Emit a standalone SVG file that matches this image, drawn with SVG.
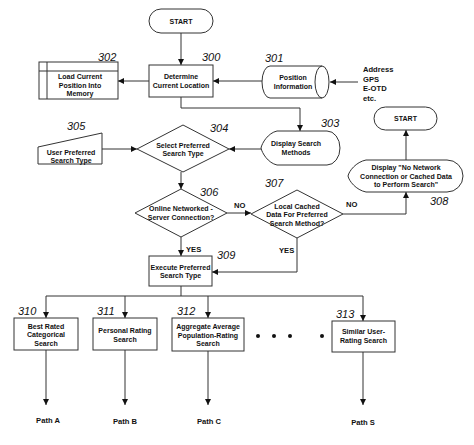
<svg xmlns="http://www.w3.org/2000/svg" width="474" height="445" viewBox="0 0 474 445">
<style>
.s{fill:#fff;stroke:#333;stroke-width:1}
.t{font-family:"Liberation Sans",Arial,sans-serif;font-size:7px;font-weight:bold;fill:#111;text-anchor:middle}
.b{font-family:"Liberation Sans",Arial,sans-serif;font-size:7.6px;font-weight:bold;fill:#111}
.n{font-family:"Liberation Sans",Arial,sans-serif;font-size:11px;font-style:italic;fill:#111}
.c{fill:none;stroke:#333;stroke-width:1;marker-end:url(#ah)}
.l{fill:none;stroke:#333;stroke-width:1}
</style>
<defs>
<marker id="ah" viewBox="0 0 10 10" refX="10" refY="5" markerWidth="6" markerHeight="6" markerUnits="userSpaceOnUse" orient="auto">
<path d="M0,0 L10,5 L0,10 Z" fill="#111"/>
</marker>
</defs>
<rect width="474" height="445" fill="#fff"/>

<g id="connectors">
<path class="c" d="M181,33 V65"/>
<path class="c" d="M149,81 H118"/>
<path class="c" d="M262,81 H213"/>
<path class="c" d="M358,82 H330"/>
<path class="c" d="M181,97 V108 H300 V131"/>
<path class="c" d="M261,149 H229"/>
<path class="c" d="M102,149 H137"/>
<path class="c" d="M181,172 V189"/>
<path class="c" d="M227,213 H251"/>
<path class="c" d="M343,214 H406 V192"/>
<path class="c" d="M406,160 V130"/>
<path class="c" d="M297,238 V272 H212"/>
<path class="c" d="M181,237 V256"/>
<path class="l" d="M181,286 V296 M46,296 H363"/>
<path class="c" d="M46,296 V318"/>
<path class="c" d="M125,296 V318"/>
<path class="c" d="M208,296 V318"/>
<path class="c" d="M363,296 V321"/>
<path class="c" d="M46,350 V405"/>
<path class="c" d="M125,350 V405"/>
<path class="c" d="M208,351 V405"/>
<path class="c" d="M363,352 V405"/>
<text class="b" x="234" y="208">NO</text>
<text class="b" x="346" y="207">NO</text>
<text class="b" x="186" y="252">YES</text>
<text class="b" x="279" y="253">YES</text>
</g>

<g id="start1">
<rect class="s" x="149" y="9" width="64" height="24" rx="12"/>
<text class="t" x="181" y="24">START</text>
</g>

<g id="n300">
<rect class="s" x="149" y="65" width="64" height="32"/>
<text class="t" x="181" y="79">Determine</text>
<text class="t" x="181" y="87.5">Current Location</text>
<text class="n" x="202" y="61">300</text>
</g>

<g id="n302">
<rect class="s" x="39" y="62" width="79" height="37"/>
<path class="l" d="M47,62 V99 M39,71 H118"/>
<text class="t" x="80" y="79">Load Current</text>
<text class="t" x="80" y="87.5">Position Into</text>
<text class="t" x="80" y="96">Memory</text>
<text class="n" x="98" y="61">302</text>
</g>

<g id="n301">
<path class="s" d="M270,66 H322 A7,16 0 0 1 322,98 H270 A8,16 0 0 1 270,66 Z"/>
<path class="l" d="M322,66 A7,16 0 0 0 322,98"/>
<text class="t" x="293" y="80">Position</text>
<text class="t" x="293" y="88.5">Information</text>
<text class="n" x="265" y="62">301</text>
</g>

<g id="sources">
<text class="b" x="363" y="72">Address</text>
<text class="b" x="363" y="81.5">GPS</text>
<text class="b" x="363" y="91">E-OTD</text>
<text class="b" x="363" y="100.5">etc.</text>
</g>

<g id="start2">
<rect class="s" x="374" y="107" width="63" height="23" rx="11.5"/>
<text class="t" x="405.5" y="121">START</text>
</g>

<g id="n303">
<path class="s" d="M277,131 H327 A13,17 0 0 1 327,165 H277 C268,163 262,153 261,148 C262,143 268,133 277,131 Z"/>
<text class="t" x="296" y="146">Display Search</text>
<text class="t" x="296" y="154.5">Methods</text>
<text class="n" x="321" y="127">303</text>
</g>

<g id="n304">
<path class="s" d="M183,125 L229,149 L183,172 L137,149 Z"/>
<text class="t" x="183" y="147.5">Select Preferred</text>
<text class="t" x="183" y="156">Search Type</text>
<text class="n" x="210" y="132">304</text>
</g>

<g id="n305">
<path class="s" d="M38,147 L102,133 V164 H38 Z"/>
<text class="t" x="71" y="154.5">User Preferred</text>
<text class="t" x="71" y="163">Search Type</text>
<text class="n" x="67" y="130">305</text>
</g>

<g id="n306">
<path class="s" d="M181,189 L227,213 L181,237 L135,213 Z"/>
<text class="t" x="181" y="211">Online Networked -</text>
<text class="t" x="181" y="219.5">Server Connection?</text>
<text class="n" x="200" y="196">306</text>
</g>

<g id="n307">
<path class="s" d="M297,190 L343,214 L297,238 L251,214 Z"/>
<text class="t" x="297" y="208.5">Local Cached</text>
<text class="t" x="297" y="217">Data For  Preferred</text>
<text class="t" x="297" y="225.5">Search Method?</text>
<text class="n" x="265" y="187">307</text>
</g>

<g id="n308">
<path class="s" d="M366,160 H447 A16,16 0 0 1 447,192 H366 C356,190 349,181 348,176 C349,171 356,162 366,160 Z"/>
<text class="t" x="406" y="170">Display "No Network</text>
<text class="t" x="406" y="178.5">Connection or Cached Data</text>
<text class="t" x="406" y="187">to Perform Search"</text>
<text class="n" x="430" y="205">308</text>
</g>

<g id="n309">
<rect class="s" x="149" y="256" width="63" height="30"/>
<text class="t" x="180.5" y="269.5">Execute Preferred</text>
<text class="t" x="180.5" y="278">Search Type</text>
<text class="n" x="217" y="259">309</text>
</g>

<g id="n310">
<rect class="s" x="14" y="318" width="64" height="32"/>
<text class="t" x="46" y="328.5">Best Rated</text>
<text class="t" x="46" y="337">Categorical</text>
<text class="t" x="46" y="345.5">Search</text>
<text class="n" x="18" y="315">310</text>
</g>

<g id="n311">
<rect class="s" x="93" y="318" width="64" height="32"/>
<text class="t" x="125" y="333">Personal Rating</text>
<text class="t" x="125" y="341.5">Search</text>
<text class="n" x="97" y="315">311</text>
</g>

<g id="n312">
<rect class="s" x="172" y="318" width="72" height="33"/>
<text class="t" x="208" y="329">Aggregate Average</text>
<text class="t" x="208" y="337.5">Population-Rating</text>
<text class="t" x="208" y="346">Search</text>
<text class="n" x="177" y="315">312</text>
</g>

<g id="dots" fill="#111">
<circle cx="258" cy="336" r="2"/>
<circle cx="274" cy="336" r="2"/>
<circle cx="290" cy="336" r="2"/>
<circle cx="322" cy="336" r="2"/>
</g>

<g id="n313">
<rect class="s" x="332" y="321" width="63" height="31"/>
<text class="t" x="363.5" y="334">Similar User-</text>
<text class="t" x="363.5" y="342.5">Rating Search</text>
<text class="n" x="336" y="318">313</text>
</g>

<g id="paths">
<text class="t" x="48" y="423" style="font-size:7.6px">Path A</text>
<text class="t" x="125" y="424" style="font-size:7.6px">Path B</text>
<text class="t" x="209" y="424" style="font-size:7.6px">Path C</text>
<text class="t" x="363" y="425" style="font-size:7.6px">Path S</text>
</g>
</svg>
